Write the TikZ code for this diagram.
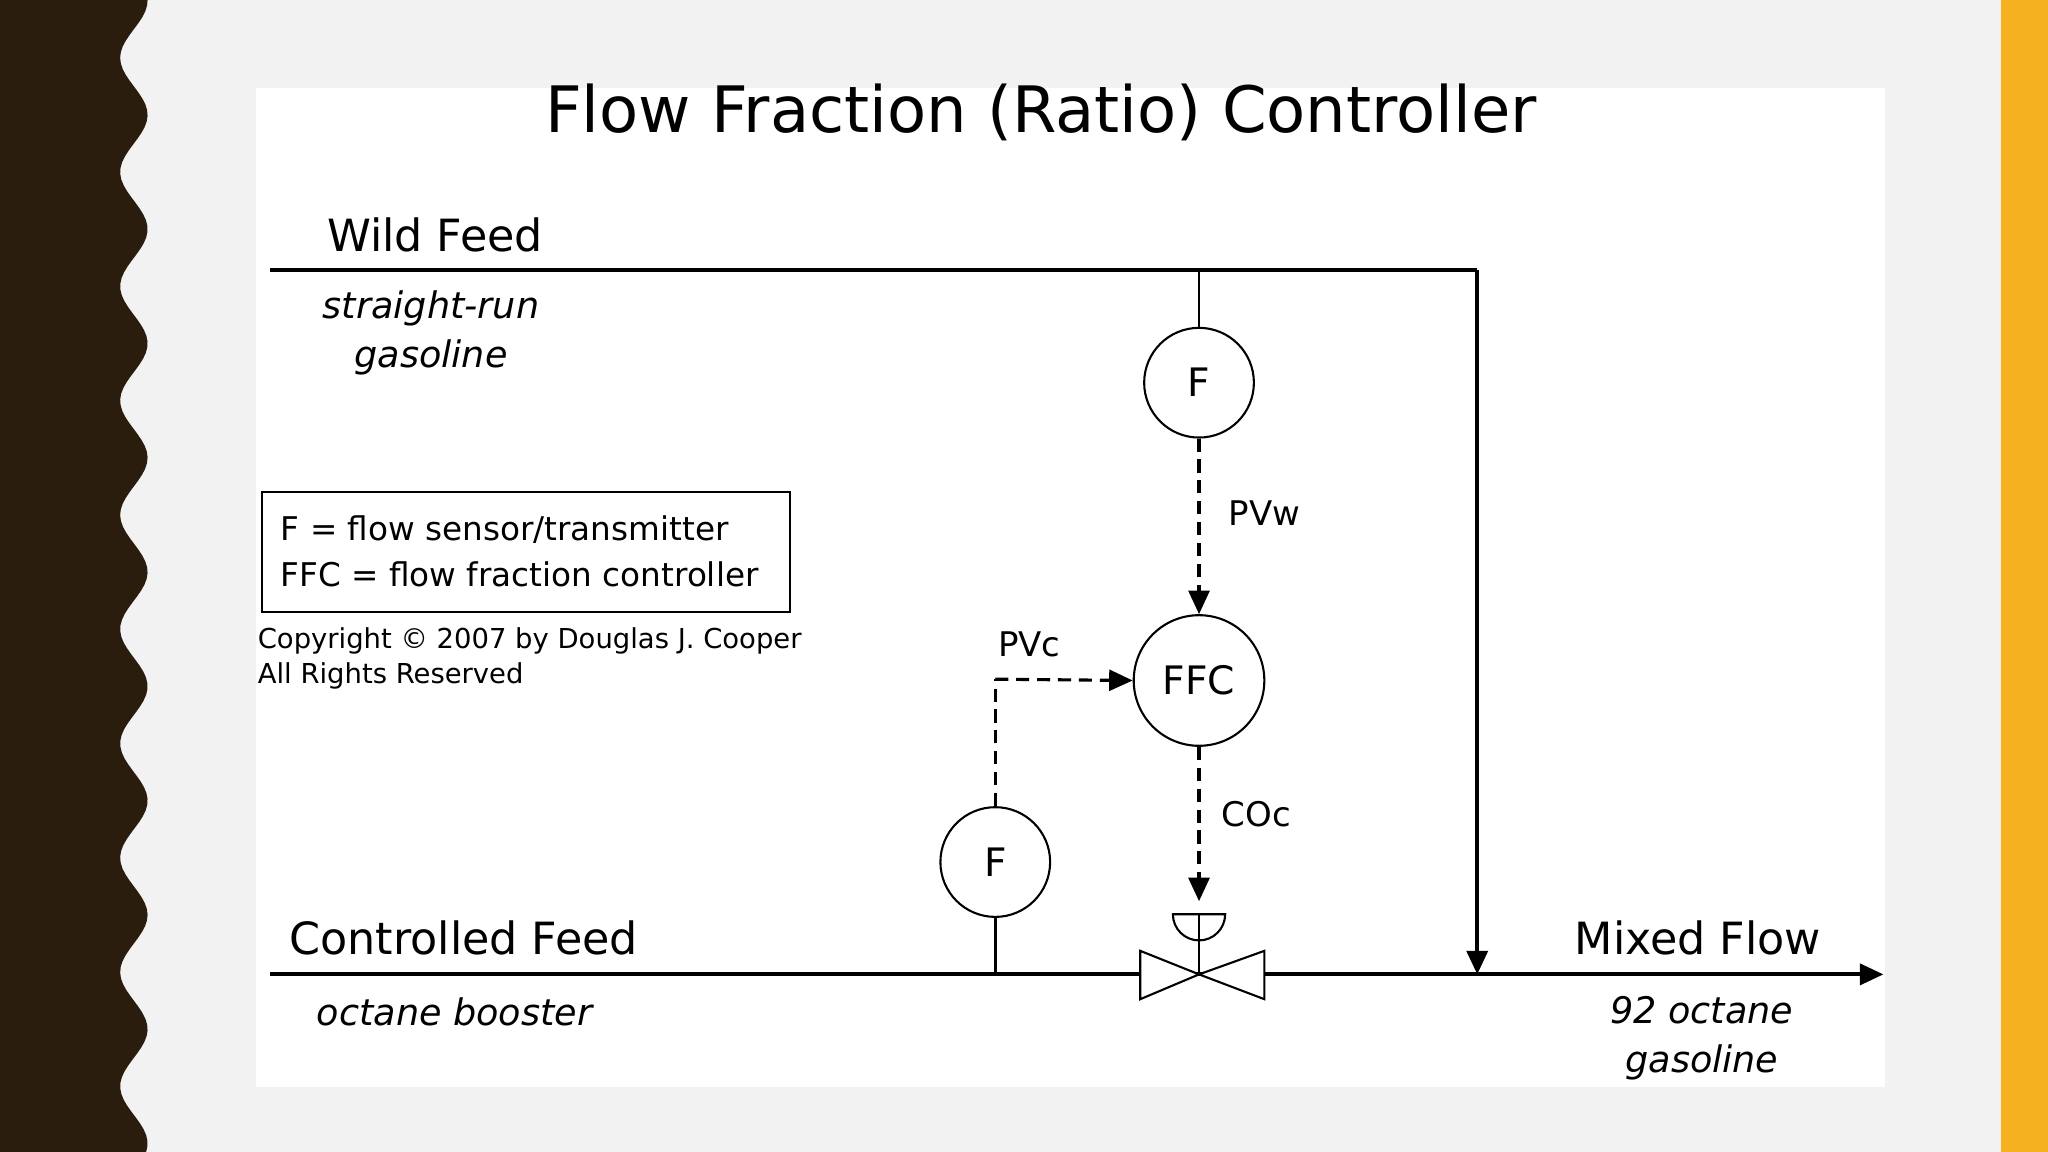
\documentclass[tikz,border=0pt]{standalone}
\usepackage{fontspec}
\setmainfont{DejaVu Sans}
\usetikzlibrary{arrows.meta}
\begin{document}
\begin{tikzpicture}[x=0.5pt,y=-0.5pt,
  pipe/.style={line width=1.5pt},
  sig/.style={line width=1.2pt,dash pattern=on 5pt off 3pt},
  inst/.style={circle,draw,line width=0.8pt,fill=white,inner sep=0pt},
  arr/.style={-{Triangle[length=9pt,width=8pt]}},
  lbl/.style={font=\fontsize{13}{16}\selectfont},
  it/.style={font=\fontsize{14}{19}\selectfont\itshape}]
\useasboundingbox (0,0) rectangle (1568,882);
\fill[gray!10] (0,0) rectangle (1568,882);
\fill[fill={rgb,255:red,43;green,29;blue,14}] (0,0) -- plot[domain=0:882,samples=200] ({102.5+10.5*cos(4.1143*(\x-88))},\x) -- (0,882) -- cycle;
\fill[fill={rgb,255:red,245;green,177;blue,32}] (1532,0) rectangle (1568,882);
\fill[white] (196,67) rectangle (1443,832);
\node (title) at (797,86) {\fontsize{24.5}{26}\selectfont Flow Fraction (Ratio) Controller};
% instruments
\node[inst,minimum size=42pt] (F1) at (918,293) {\fontsize{15}{16}\selectfont F};
\node[inst,minimum size=50pt] (FFC) at (918,521) {\fontsize{15}{16}\selectfont FFC};
\node[inst,minimum size=42pt] (F2) at (762,660) {\fontsize{15}{16}\selectfont F};
% pipes
\coordinate (w0) at (207,207); \coordinate (w1) at (1131,207); \coordinate (w2) at (1131,746);
\coordinate (c0) at (207,746); \coordinate (c1) at (1442,746);
\draw[pipe] (w0) -- (w1);
\draw[pipe,arr] (w1) -- (w2);
\draw[pipe,arr] (c0) -- (c1);
\draw[line width=1pt] (918,207) -- (F1.north);
\draw[line width=1pt] (F2.south) -- (762,746);
% valve
\coordinate (v) at (918,746);
\draw[line width=0.8pt,fill=white] (873,728) -- (873,765) -- (v) -- cycle;
\draw[line width=0.8pt,fill=white] (968,728) -- (968,765) -- (v) -- cycle;
\draw[line width=1pt] (v) -- (918,700);
\draw[line width=0.8pt] (898,700) arc[start angle=180,end angle=0,radius=20] -- cycle;
\coordinate (act) at (918,690);
% signals
\draw[sig,arr] (F1.south) -- (FFC.north);
\coordinate (pvc) at (762,520);
\draw[sig] (F2.north) -- (pvc);
\draw[sig,arr] (pvc) -- (FFC.west);
\draw[sig,arr] (FFC.south) -- (act);
\node[lbl] (pvw) at (968,393) {PVw};
\node[lbl] (pvcl) at (788,493) {PVc};
\node[lbl] (coc) at (962,623) {COc};
% labels
\node[font=\fontsize{17}{18}\selectfont] (wf) at (333,180) {Wild Feed};
\node[it,align=center] (srg) at (330,255) {straight-run\\gasoline};
\node[font=\fontsize{17}{18}\selectfont] (cf) at (355,718) {Controlled Feed};
\node[it] (ob) at (348,775) {octane booster};
\node[font=\fontsize{17}{18}\selectfont] (mf) at (1300,718) {Mixed Flow};
\node[it,align=center] (oct) at (1303,795) {92 octane\\gasoline};
% legend
\node[draw,line width=0.8pt,minimum width=202pt,minimum height=46pt,anchor=north west] (leg) at (200,376) {};
\node[anchor=west,align=left,font=\fontsize{12.5}{17.5}\selectfont] (legt) at (208,422) {F = flow sensor/transmitter\\FFC = flow fraction controller};
\node[anchor=north west,align=left,inner sep=0pt,font=\fontsize{10.5}{13.5}\selectfont] (copy) at (197,480) {Copyright \textcopyright\ 2007 by Douglas J. Cooper\\All Rights Reserved};
\end{tikzpicture}
\end{document}
